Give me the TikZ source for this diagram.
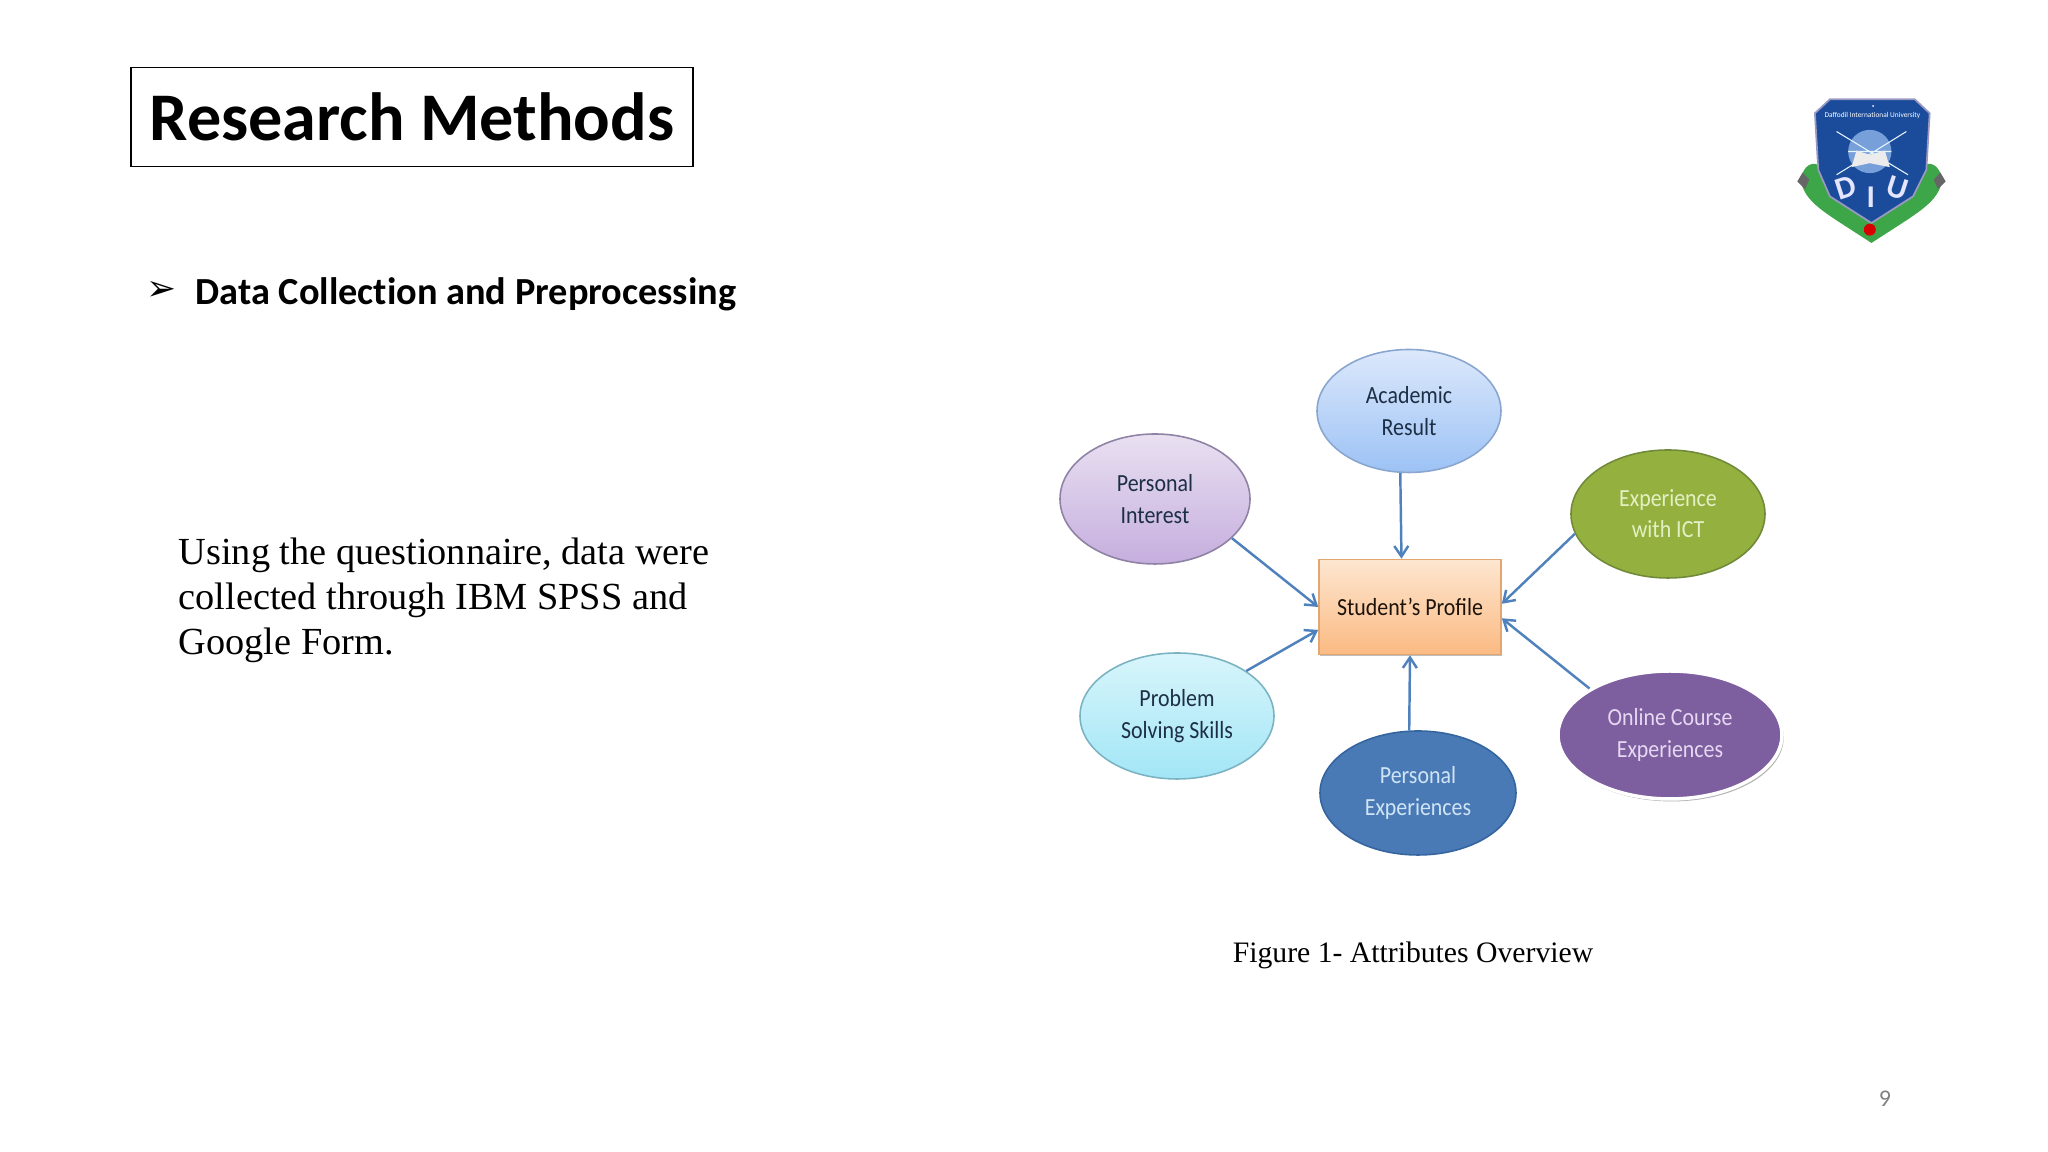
\documentclass[tikz,border=0pt]{standalone}
\usepackage{fontspec}
\setmainfont{Liberation Serif}
\newfontfamily\titlefont[Ligatures=NoCommon]{Carlito}
\newfontfamily\figfont[FakeStretch=0.89]{Carlito}
\newfontfamily\symfont{DejaVu Sans}
\usetikzlibrary{arrows.meta,shapes.geometric,shadows}
\definecolor{arrowblue}{HTML}{4F81BD}
\definecolor{shieldblue}{HTML}{1B4C9C}
\definecolor{ribbongreen}{HTML}{3DA648}
\definecolor{navytext}{HTML}{1D2F45}
\tikzset{
	attr/.style={ellipse, draw, line width=0.45pt, inner sep=0pt, align=center, font=\figfont\fontsize{7}{8.9}\selectfont},
	link/.style={draw=arrowblue, line width=0.7pt, -{Straight Barb[length=3pt,width=4pt]}},
}
\begin{document}
\begin{tikzpicture}
		  \useasboundingbox (0,0) rectangle (20.48,11.52);

		  \node[draw, line width=0.4pt, minimum width=5.62cm, minimum height=0.99cm, inner sep=0pt, font=\titlefont\bfseries\fontsize{19.4}{22}\selectfont] (title) at (4.12,10.35) {Research Methods};
		  \node[font=\symfont\fontsize{10.2}{12}\selectfont, inner sep=0pt] (bullet) at (1.62,8.61) {➢};
		  \node[anchor=west, inner sep=0pt, font=\titlefont\bfseries\fontsize{10.9}{12}\selectfont] (heading) at (1.95,8.58) {Data Collection and Preprocessing};
		  \node[anchor=north west, inner sep=0pt, align=left, font=\fontsize{10.9}{12.85}\selectfont] (body) at (1.78,6.15) {Using the questionnaire, data were\\collected through IBM SPSS and\\Google Form.};
		  \node[inner sep=0pt, font=\fontsize{8.45}{10}\selectfont] (caption) at (14.13,1.97) {Figure 1- Attributes Overview};
		  \node[inner sep=0pt, text=gray, font=\titlefont\fontsize{6.8}{8}\selectfont] (page) at (18.85,0.53) {9};

		  \node[draw={rgb,255:red,226;green,166;blue,112}, line width=0.45pt, top color={rgb,255:red,253;green,230;blue,208}, bottom color={rgb,255:red,251;green,186;blue,130}, minimum width=1.82cm, minimum height=0.95cm, inner sep=0pt, text=black!85!brown, font=\figfont\fontsize{7}{8.9}\selectfont, drop shadow={shadow xshift=0.3pt, shadow yshift=-0.4pt}] (profile) at (14.1,5.45) {Student’s Profile};
		  \node[attr, draw={rgb,255:red,138;green,166;blue,207}, top color={rgb,255:red,220;green,232;blue,251}, bottom color={rgb,255:red,156;green,194;blue,245}, minimum width=1.84cm, minimum height=1.23cm, text=navytext] (academic) at (14.09,7.41) {Academic\\Result};
		  \node[attr, draw={rgb,255:red,143;green,130;blue,165}, top color={rgb,255:red,233;green,224;blue,241}, bottom color={rgb,255:red,197;green,174;blue,222}, minimum width=1.9cm, minimum height=1.3cm, text=navytext] (interest) at (11.55,6.53) {Personal\\Interest};
		  \node[attr, draw={rgb,255:red,113;green,138;blue,58}, fill={rgb,255:red,148;green,177;blue,63}, minimum width=1.94cm, minimum height=1.28cm, text={rgb,255:red,228;green,240;blue,196}] (ict) at (16.68,6.38) {Experience\\with ICT};
		  \node[attr, draw={rgb,255:red,124;green,179;blue,194}, top color={rgb,255:red,216;green,245;blue,251}, bottom color={rgb,255:red,162;green,230;blue,246}, minimum width=1.94cm, minimum height=1.26cm, text=navytext] (problem) at (11.77,4.36) {Problem\\Solving Skills};
		  \node[attr, draw={rgb,255:red,53;green,101;blue,159}, fill={rgb,255:red,74;green,122;blue,181}, minimum width=1.96cm, minimum height=1.24cm, text={rgb,255:red,207;green,228;blue,245}] (experiences) at (14.18,3.59) {Personal\\Experiences};
		  \node[attr, draw=white, line width=1pt, fill={rgb,255:red,125;green,94;blue,159}, minimum width=2.24cm, minimum height=1.28cm, text={rgb,255:red,230;green,216;blue,242}, drop shadow={shadow xshift=0.5pt, shadow yshift=-0.7pt, fill=gray, opacity=0.6}] (online) at (16.7,4.17) {Online Course\\Experiences};

		  \draw[link] (academic.262) -- (profile.100);
		  \draw[link] (interest.333) -- (profile.180);
		  \draw[link] (ict.192) -- (profile.2);
		  \draw[link] (problem.33) -- (profile.194);
		  \draw[link] (experiences.98) -- (profile.270);
		  \draw[link] (online.150) -- (profile.353);

		  \begin{scope}[shift={(17.8,10.72)}, x=0.00333cm, y=-0.00333cm]
		    \fill[ribbongreen] (62,300) .. controls (70,255) and (100,240) .. (125,262) -- (150,350) -- (275,425) -- (400,350) -- (425,262) .. controls (450,240) and (480,255) .. (488,300) .. controls (475,370) and (420,395) .. (275,490) .. controls (130,395) and (75,370) .. (62,300) -- cycle;
		    \fill[black!60] (52,305) -- (68,278) -- (88,300) -- (75,328) -- cycle;
		    \fill[black!60] (498,305) -- (482,278) -- (462,300) -- (475,328) -- cycle;
		    \filldraw[fill=shieldblue, draw=black!60!blue!40, line width=0.5pt] (150,58) -- (405,58) -- (450,100) -- (440,270) -- (400,350) -- (275,430) -- (150,350) -- (115,270) -- (105,100) -- cycle;
		    \fill[cyan!50!blue!55] (270,215) circle (65);
		    \draw[white!90!cyan, line width=0.3pt] (170,155) -- (385,285) (380,155) -- (170,285) (205,215) -- (335,215);
		    \fill[white!85!gray] (215,262) -- (230,212) -- (270,225) -- (315,212) -- (330,262) -- (270,250) -- cycle;
		    \fill[red!85!black] (270,450) circle (18);
		    \fill[white] (280,78) circle (3);
		    \node[text=white, inner sep=0pt, font=\titlefont\fontsize{2.1}{3}\selectfont] (univ) at (278,108) {Daffodil International University};
		    \node[text=blue!10, inner sep=0pt, rotate=18, font=\titlefont\bfseries\fontsize{9}{10}\selectfont] (letterd) at (197,325) {D};
		    \node[text=blue!10, inner sep=0pt, font=\titlefont\bfseries\fontsize{9}{10}\selectfont] (letteri) at (273,352) {I};
		    \node[text=blue!10, inner sep=0pt, rotate=-18, font=\titlefont\bfseries\fontsize{9}{10}\selectfont] (letteru) at (352,325) {U};
		  \end{scope}
		\end{tikzpicture}
\end{document}
